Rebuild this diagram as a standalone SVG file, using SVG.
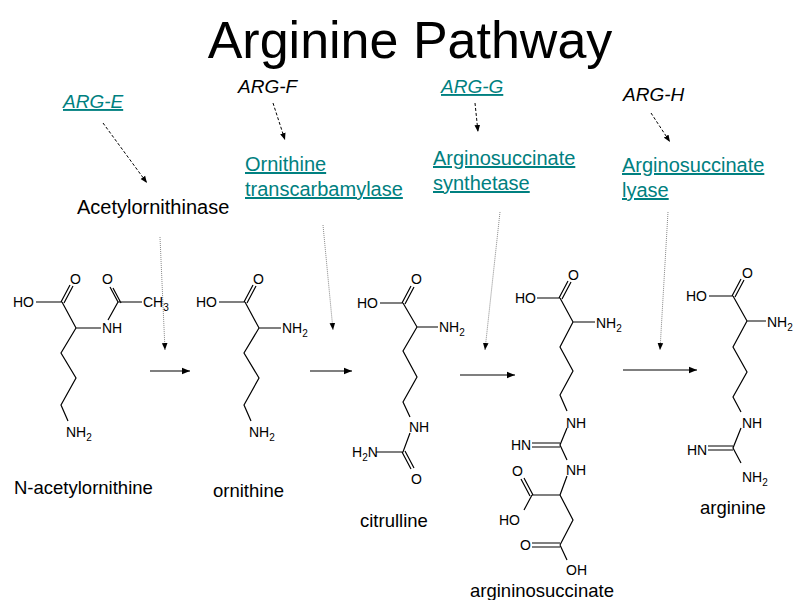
<svg xmlns="http://www.w3.org/2000/svg" width="800" height="600" viewBox="0 0 800 600">
<defs>
<style>
text{font-family:"Liberation Sans",Arial,sans-serif}
.t{font-size:52px}
.g{font-size:19px;font-style:italic}
.e{font-size:20px}
.lk{fill:#008080;text-decoration:underline}
.n{font-size:18.5px}
.a{font-size:14px}
.b{stroke:#000;stroke-width:1.2;fill:none}
.d{stroke:#000;stroke-width:1;stroke-dasharray:3,2;fill:none}
.p{stroke:#888;stroke-width:1;stroke-dasharray:1,1;fill:none}
.r{stroke:#000;stroke-width:1.2;fill:none}
</style>
<marker id="h" viewBox="0 0 10 10" refX="10" refY="5" markerWidth="7" markerHeight="7" orient="auto"><path d="M0,1L10,5L0,9z"/></marker>
</defs>
<rect width="800" height="600" fill="#fff"/>
<text class="t" x="410" y="58" text-anchor="middle">Arginine Pathway</text>
<g id="genes">
<text class="g lk" x="63" y="108">ARG-E</text>
<text class="g" x="238" y="93">ARG-F</text>
<text class="g lk" x="441" y="93">ARG-G</text>
<text class="g" x="623" y="101">ARG-H</text>
</g>
<g id="enzymes">
<text class="e" x="77" y="214">Acetylornithinase</text>
<text class="e lk" x="245" y="171">Ornithine</text>
<text class="e lk" x="245" y="196">transcarbamylase</text>
<text class="e lk" x="433" y="165">Arginosuccinate</text>
<text class="e lk" x="433" y="190">synthetase</text>
<text class="e lk" x="622" y="172">Arginosuccinate</text>
<text class="e lk" x="622" y="197">lyase</text>
</g>
<g id="connectors">
<path class="d" d="M103,123L147,183" marker-end="url(#h)"/>
<path class="d" d="M273,103L285,140" marker-end="url(#h)"/>
<path class="d" d="M475,103L478,132" marker-end="url(#h)"/>
<path class="d" d="M651,113L670,142" marker-end="url(#h)"/>
<path class="p" d="M160,237L165,350" marker-end="url(#h)"/>
<path class="p" d="M323,225L333,330" marker-end="url(#h)"/>
<path class="p" d="M500,212L485,350" marker-end="url(#h)"/>
<path class="p" d="M668,212L660,350" marker-end="url(#h)"/>
<path class="r" d="M150,371L190,371" marker-end="url(#h)"/>
<path class="r" d="M310,371L352,371" marker-end="url(#h)"/>
<path class="r" d="M460,375L515,375" marker-end="url(#h)"/>
<path class="r" d="M623,370L697,370" marker-end="url(#h)"/>
</g>
<g id="n-acetylornithine">
<path class="b" d="M36,302H62M61,302L70,285M64,303L73,286M62,302L76,328H101M76,328L61,353L76,378L61,405L68,421M108,320L118,302L110,287M121,303L113,288M118,302H142"/>
<text class="a" x="13" y="307">HO</text>
<text class="a" x="70" y="284">O</text>
<text class="a" x="102" y="284">O</text>
<text class="a" x="102" y="333">NH</text>
<text class="a" x="143" y="307">CH<tspan font-size="10" dy="4">3</tspan></text>
<text class="a" x="66" y="437">NH<tspan font-size="10" dy="4">2</tspan></text>
<text class="n" x="14" y="494">N-acetylornithine</text>
</g>
<g id="ornithine">
<path class="b" d="M219,302H245M244,302L253,285M247,303L256,286M245,302L259,328H281M259,328L244,353L259,378L244,405L251,421"/>
<text class="a" x="196" y="307">HO</text>
<text class="a" x="253" y="284">O</text>
<text class="a" x="282" y="333">NH<tspan font-size="10" dy="4">2</tspan></text>
<text class="a" x="249" y="437">NH<tspan font-size="10" dy="4">2</tspan></text>
<text class="n" x="213" y="497">ornithine</text>
</g>
<g id="citrulline">
<path class="b" d="M380,303H403M402,303L411,286M405,304L414,287M403,303L417,327H438M417,327L403,351L417,377L403,402L410,417M410,433L403,452H376M402,452L411,469M405,451L414,468"/>
<text class="a" x="357" y="308">HO</text>
<text class="a" x="411" y="284">O</text>
<text class="a" x="439" y="332">NH<tspan font-size="10" dy="4">2</tspan></text>
<text class="a" x="409" y="432">NH</text>
<text class="a" x="352" y="457">H<tspan font-size="10" dy="4">2</tspan><tspan dy="-4">N</tspan></text>
<text class="a" x="411" y="484">O</text>
<text class="n" x="360" y="527">citrulline</text>
</g>
<g id="argininosuccinate">
<path class="b" d="M537,298H560M559,298L568,281M562,299L571,282M560,298L573,322H595M573,322L560,347L573,371L560,395L567,411M567,428L560,445L567,460M532,443H560M532,447H560M560,495L567,476M560,495H532M533,495L524,478M530,496L521,479M532,495L524,510M560,495L573,520L560,545M560,543H532M560,547H532M560,545L567,560"/>
<text class="a" x="515" y="303">HO</text>
<text class="a" x="568" y="280">O</text>
<text class="a" x="596" y="328">NH<tspan font-size="10" dy="4">2</tspan></text>
<text class="a" x="566" y="428">NH</text>
<text class="a" x="511" y="450">HN</text>
<text class="a" x="566" y="475">NH</text>
<text class="a" x="512" y="476">O</text>
<text class="a" x="499" y="525">HO</text>
<text class="a" x="520" y="550">O</text>
<text class="a" x="566" y="575">OH</text>
<text class="n" x="470" y="597">argininosuccinate</text>
</g>
<g id="arginine">
<path class="b" d="M709,296H733M732,296L741,279M735,297L744,280M733,296L747,321H766M747,321L733,347L747,372L733,397L741,412M741,428L733,448L741,463M708,446H733M708,450H733"/>
<text class="a" x="686" y="301">HO</text>
<text class="a" x="742" y="278">O</text>
<text class="a" x="767" y="327">NH<tspan font-size="10" dy="4">2</tspan></text>
<text class="a" x="742" y="428">NH</text>
<text class="a" x="687" y="455">HN</text>
<text class="a" x="742" y="482">NH<tspan font-size="10" dy="4">2</tspan></text>
<text class="n" x="700" y="514">arginine</text>
</g>
</svg>
